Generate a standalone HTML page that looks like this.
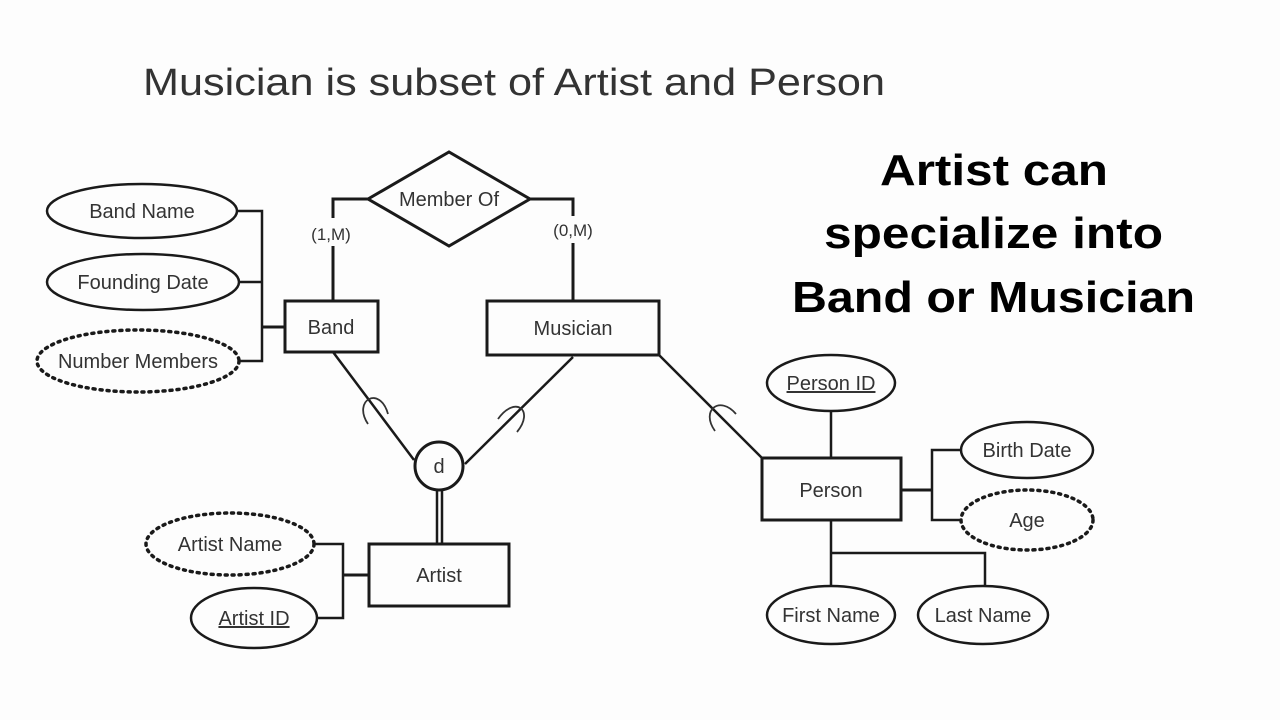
<!DOCTYPE html>
<html><head><meta charset="utf-8"><style>
html,body{margin:0;padding:0;background:#fff;width:1280px;height:720px;overflow:hidden}
svg{display:block}
text{font-family:"Liberation Sans",sans-serif;fill:#333}
</style></head><body>
<svg width="1280" height="720" viewBox="0 0 1280 720">
<rect width="1280" height="720" fill="#fdfdfd"/>
<text x="143" y="95" font-size="38" fill="#2a2a2a" textLength="742" lengthAdjust="spacingAndGlyphs">Musician is subset of Artist and Person</text>
<g font-size="44" font-weight="bold">
<text x="880" y="185" style="fill:#000" textLength="228" lengthAdjust="spacingAndGlyphs">Artist can</text>
<text x="824" y="248" style="fill:#000" textLength="339" lengthAdjust="spacingAndGlyphs">specialize into</text>
<text x="792" y="312" style="fill:#000" textLength="403" lengthAdjust="spacingAndGlyphs">Band or Musician</text>
</g>
<g stroke="#1a1a1a" stroke-width="3" fill="none">
<polygon points="368,199 449,152 530,199 449,246"/>
<polyline points="368,199 333,199 333,218"/><line x1="333" y1="246" x2="333" y2="300"/>
<polyline points="530,199 573,199 573,216"/><line x1="573" y1="243" x2="573" y2="300"/>
<rect x="285" y="301" width="93" height="51"/>
<rect x="487" y="301" width="172" height="54"/>
<ellipse cx="142" cy="211" rx="95" ry="27" stroke-width="2.5"/>
<ellipse cx="143" cy="282" rx="96" ry="28" stroke-width="2.5"/>
<ellipse cx="138" cy="361" rx="101" ry="31" stroke-width="3.5" stroke-dasharray="2 5" stroke-linecap="round"/>
<polyline points="237,211 262,211 262,361 240,361" stroke-width="2.5"/>
<line x1="239" y1="282" x2="262" y2="282" stroke-width="2.5"/>
<line x1="262" y1="327" x2="285" y2="327"/>
<line x1="333" y1="352" x2="414" y2="460" stroke-width="2.5"/>
<line x1="573" y1="357" x2="465" y2="464" stroke-width="2.5"/>
<circle cx="439" cy="466" r="24"/>
<line x1="437" y1="490" x2="437" y2="543" stroke-width="2.5"/>
<line x1="442" y1="490" x2="442" y2="543" stroke-width="2.5"/>
<rect x="369" y="544" width="140" height="62"/>
<ellipse cx="230" cy="544" rx="84" ry="31" stroke-width="3.5" stroke-dasharray="2 5" stroke-linecap="round"/>
<ellipse cx="254" cy="618" rx="63" ry="30" stroke-width="2.5"/>
<polyline points="314,544 343,544 343,618 317,618" stroke-width="2.5"/>
<line x1="343" y1="575" x2="369" y2="575"/>
<line x1="659" y1="355" x2="762" y2="458" stroke-width="2.5"/>
<rect x="762" y="458" width="139" height="62"/>
<ellipse cx="831" cy="383" rx="64" ry="28" stroke-width="2.5"/>
<line x1="831" y1="411" x2="831" y2="458" stroke-width="2.5"/>
<ellipse cx="1027" cy="450" rx="66" ry="28" stroke-width="2.5"/>
<ellipse cx="1027" cy="520" rx="66" ry="30" stroke-width="3.5" stroke-dasharray="2 5" stroke-linecap="round"/>
<polyline points="961,450 932,450 932,520 961,520" stroke-width="2.5"/>
<line x1="901" y1="490" x2="932" y2="490"/>
<ellipse cx="831" cy="615" rx="64" ry="29" stroke-width="2.5"/>
<ellipse cx="983" cy="615" rx="65" ry="29" stroke-width="2.5"/>
<line x1="831" y1="520" x2="831" y2="586" stroke-width="2.5"/>
<polyline points="831,553 985,553 985,586" stroke-width="2.5"/>
</g>
<g stroke="#333" stroke-width="1.8" fill="none">
<path d="M368,424 C352,400 380,385 388,414"/>
<path d="M498,419 C515,395 535,410 517,432"/>
<path d="M715,431 C700,410 720,395 736,414"/>
</g>
<g font-size="20" text-anchor="middle">
<text x="449" y="206">Member Of</text>
<text x="331" y="240" font-size="17">(1,M)</text>
<text x="573" y="236" font-size="17">(0,M)</text>
<text x="331" y="334">Band</text>
<text x="573" y="335">Musician</text>
<text x="142" y="218">Band Name</text>
<text x="143" y="289">Founding Date</text>
<text x="138" y="368">Number Members</text>
<text x="439" y="473">d</text>
<text x="439" y="582">Artist</text>
<text x="230" y="551">Artist Name</text>
<text x="254" y="625" text-decoration="underline">Artist ID</text>
<text x="831" y="497">Person</text>
<text x="831" y="390" text-decoration="underline">Person ID</text>
<text x="1027" y="457">Birth Date</text>
<text x="1027" y="527">Age</text>
<text x="831" y="622">First Name</text>
<text x="983" y="622">Last Name</text>
</g>
</svg>
</body></html>
